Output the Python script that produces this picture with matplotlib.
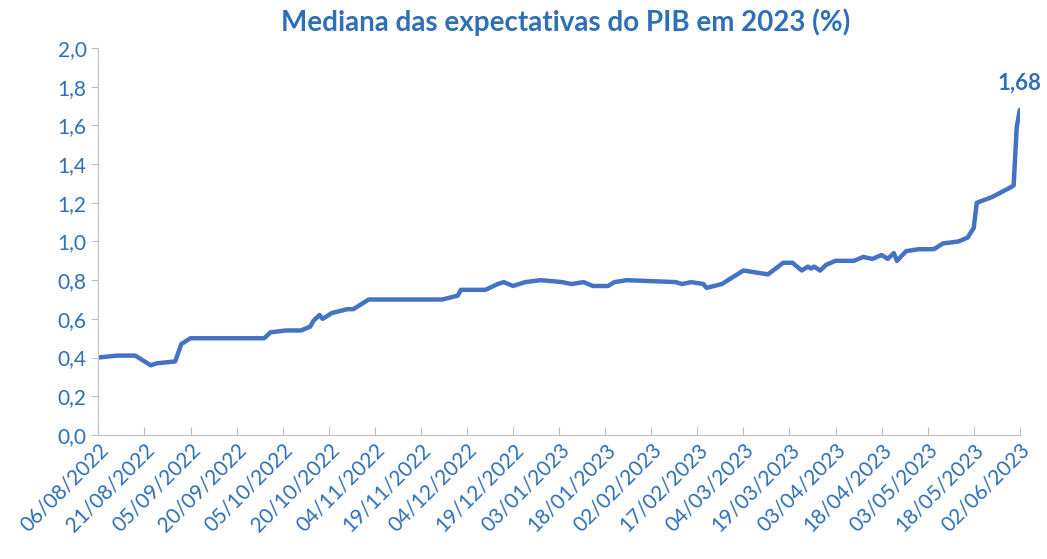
import matplotlib
matplotlib.use("Agg")
import matplotlib.pyplot as plt
import datetime as dt

start = dt.date(2022, 8, 6)
days = [0,6,12,17,19,25,27,30,54,56,61,66,69,70,72,73,76,81,83,88,112,117,118,126,130,132,135,139,144,151,154,158,161,166,168,172,188,190,193,197,198,203,210,214,218,223,226,229,231,232,233,235,237,240,246,249,252,255,257,259,260,263,267,272,275,280,283,285,286,291,297,298,299,300]
values = [0.40,0.41,0.41,0.36,0.37,0.38,0.47,0.50,0.50,0.53,0.54,0.54,0.56,0.59,0.62,0.60,0.63,0.65,0.65,0.70,0.70,0.72,0.75,0.75,0.78,0.79,0.77,0.79,0.80,0.79,0.78,0.79,0.77,0.77,0.79,0.80,0.79,0.78,0.79,0.78,0.76,0.78,0.85,0.84,0.83,0.89,0.89,0.85,0.87,0.86,0.87,0.85,0.88,0.90,0.90,0.92,0.91,0.93,0.91,0.94,0.90,0.95,0.96,0.96,0.99,1.00,1.02,1.07,1.20,1.23,1.28,1.29,1.59,1.68]
tick_days = list(range(0, 301, 15))
tick_labels = [(start + dt.timedelta(days=d)).strftime("%d/%m/%Y") for d in tick_days]
yticks = [0.0,0.2,0.4,0.6,0.8,1.0,1.2,1.4,1.6,1.8,2.0]

blue = "#2E6FB5"
plt.rcParams["font.family"] = "Lato"
fig = plt.figure(figsize=(10.47, 5.59), dpi=100)
ax = fig.add_axes([0.094, 0.222, 0.88, 0.692])
ax.plot(days, values, color="#4472C4", lw=3.2, solid_capstyle="round")
ax.set_xlim(0, 300)
ax.set_ylim(0, 2.0)
ax.set_yticks(yticks)
ax.set_yticklabels([f"{v:.1f}".replace(".", ",") for v in yticks], color=blue, fontsize=15)
ax.set_xticks(tick_days)
ax.set_xticklabels(tick_labels, rotation=45, ha="right", rotation_mode="anchor", color=blue, fontsize=15)
ax.tick_params(axis="x", length=6, color="#BFBFBF", direction="in")
ax.tick_params(axis="y", length=5, color="#BFBFBF", direction="out")
for s in ["top", "right"]:
    ax.spines[s].set_visible(False)
for s in ["left", "bottom"]:
    ax.spines[s].set_color("#BFBFBF")
ax.annotate("1,68", (days[-1], values[-1]), xytext=(0, 12), textcoords="offset points",
            ha="center", va="bottom", color=blue, fontsize=16, fontweight="bold")
fig.suptitle("Mediana das expectativas do PIB em 2023 (%)", x=0.54, y=0.985, color=blue, fontsize=20, fontweight="bold")
fig.savefig("out.png", dpi=100)
